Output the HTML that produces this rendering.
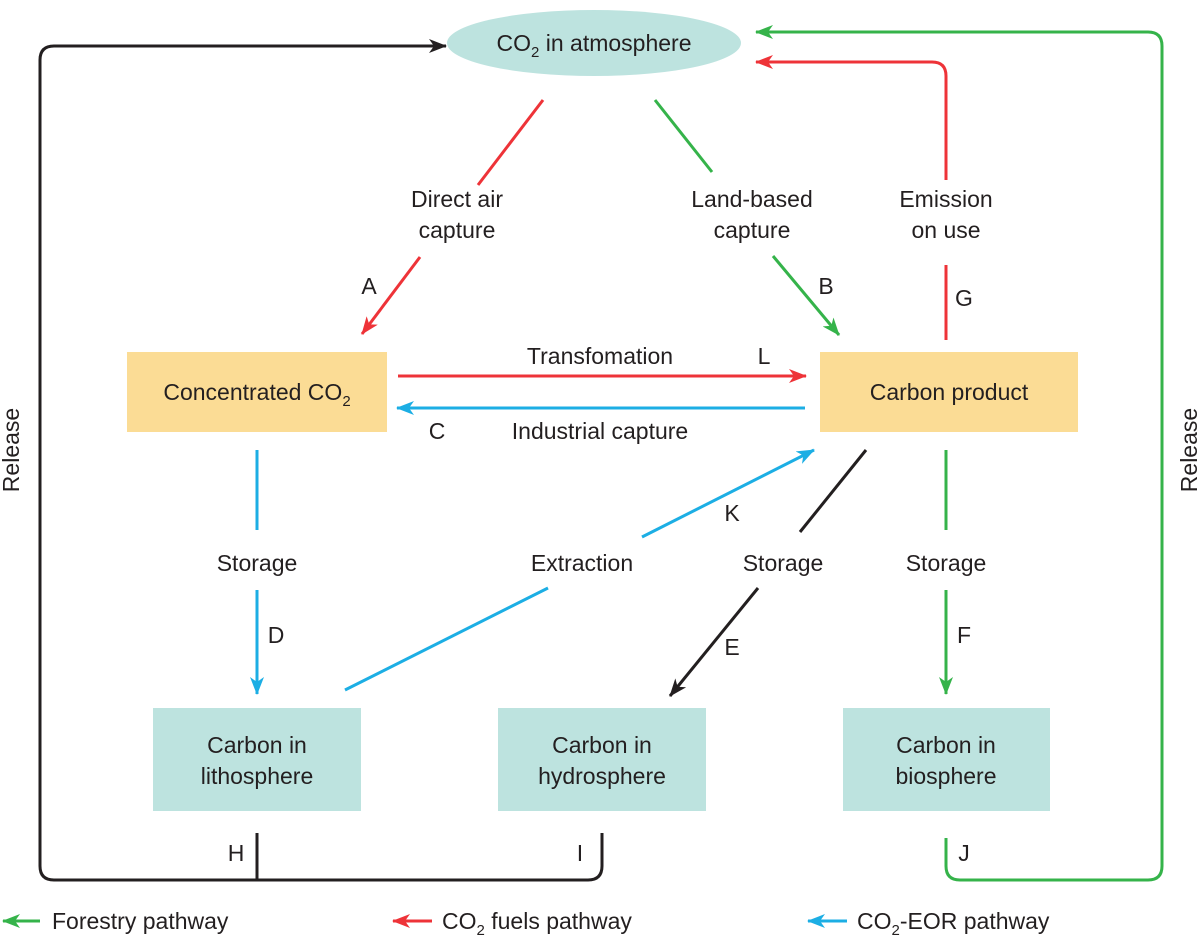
<!DOCTYPE html>
<html><head><meta charset="utf-8"><style>
html,body{margin:0;padding:0;background:#fff;}
svg{display:block;}
text{font-family:"Liberation Sans",Arial,sans-serif;font-size:23px;fill:#231f20;}
</style></head><body>
<svg width="1200" height="939" viewBox="0 0 1200 939" xmlns="http://www.w3.org/2000/svg">
<defs>
<marker id="ar" viewBox="0 0 18 14" refX="17" refY="7" markerWidth="18" markerHeight="14" markerUnits="userSpaceOnUse" orient="auto"><path d="M0,0 L18,7 L0,14 L5,7 Z" fill="#ee3338"/></marker>
<marker id="ag" viewBox="0 0 18 14" refX="17" refY="7" markerWidth="18" markerHeight="14" markerUnits="userSpaceOnUse" orient="auto"><path d="M0,0 L18,7 L0,14 L5,7 Z" fill="#35b34a"/></marker>
<marker id="ab" viewBox="0 0 18 14" refX="17" refY="7" markerWidth="18" markerHeight="14" markerUnits="userSpaceOnUse" orient="auto"><path d="M0,0 L18,7 L0,14 L5,7 Z" fill="#1caee4"/></marker>
<marker id="ak" viewBox="0 0 18 14" refX="17" refY="7" markerWidth="18" markerHeight="14" markerUnits="userSpaceOnUse" orient="auto"><path d="M0,0 L18,7 L0,14 L5,7 Z" fill="#231f20"/></marker>
</defs>
<g fill="none" stroke-width="3">
<path d="M602,833 V866 Q602,880 588,880 H54 Q40,880 40,866 V60 Q40,46 54,46 H446" stroke="#231f20" marker-end="url(#ak)"/>
<path d="M257,833 V880" stroke="#231f20"/>
<path d="M946,838 V866 Q946,880 960,880 H1148 Q1162,880 1162,866 V46 Q1162,32 1148,32 H756" stroke="#35b34a" marker-end="url(#ag)"/>
<path d="M946,180 V76 Q946,62 932,62 H756" stroke="#ee3338" marker-end="url(#ar)"/>
<path d="M946,340 V265" stroke="#ee3338"/>
<path d="M543,100 L478,185" stroke="#ee3338"/>
<path d="M420,257 L362,334" stroke="#ee3338" marker-end="url(#ar)"/>
<path d="M655,100 L712,172" stroke="#35b34a"/>
<path d="M773,256 L839,335" stroke="#35b34a" marker-end="url(#ag)"/>
<path d="M398,376 H806" stroke="#ee3338" marker-end="url(#ar)"/>
<path d="M805,408 H397" stroke="#1caee4" marker-end="url(#ab)"/>
<path d="M257,450 V530" stroke="#1caee4"/>
<path d="M257,590 V694" stroke="#1caee4" marker-end="url(#ab)"/>
<path d="M345,690 L548,588" stroke="#1caee4"/>
<path d="M642,537 L814,450" stroke="#1caee4" marker-end="url(#ab)"/>
<path d="M866,450 L800,532" stroke="#231f20"/>
<path d="M758,588 L670,696" stroke="#231f20" marker-end="url(#ak)"/>
<path d="M946,450 V530" stroke="#35b34a"/>
<path d="M946,590 V694" stroke="#35b34a" marker-end="url(#ag)"/>
<path d="M40,921 H3" stroke="#35b34a" marker-end="url(#ag)"/>
<path d="M432,921 H393" stroke="#ee3338" marker-end="url(#ar)"/>
<path d="M847,921 H808" stroke="#1caee4" marker-end="url(#ab)"/>
</g>
<ellipse cx="594" cy="43" rx="147" ry="33" fill="#bde3df"/>
<rect x="127" y="352" width="260" height="80" fill="#fbdc95"/>
<rect x="820" y="352" width="258" height="80" fill="#fbdc95"/>
<rect x="153" y="708" width="208" height="103" fill="#bde3df"/>
<rect x="498" y="708" width="208" height="103" fill="#bde3df"/>
<rect x="843" y="708" width="207" height="103" fill="#bde3df"/>
<g text-anchor="middle">
<text x="594" y="51">CO<tspan font-size="15" dy="6">2</tspan><tspan dy="-6"> in atmosphere</tspan></text>
<text x="257" y="400">Concentrated CO<tspan font-size="15" dy="6">2</tspan></text>
<text x="949" y="400">Carbon product</text>
<text x="257" y="753">Carbon in</text><text x="257" y="784">lithosphere</text>
<text x="602" y="753">Carbon in</text><text x="602" y="784">hydrosphere</text>
<text x="946" y="753">Carbon in</text><text x="946" y="784">biosphere</text>
<text x="457" y="207">Direct air</text><text x="457" y="238">capture</text>
<text x="752" y="207">Land-based</text><text x="752" y="238">capture</text>
<text x="946" y="207">Emission</text><text x="946" y="238">on use</text>
<text x="600" y="364">Transfomation</text>
<text x="600" y="439">Industrial capture</text>
<text x="257" y="571">Storage</text>
<text x="582" y="571">Extraction</text>
<text x="783" y="571">Storage</text>
<text x="946" y="571">Storage</text>
<text x="369" y="294">A</text>
<text x="826" y="294">B</text>
<text x="964" y="306">G</text>
<text x="764" y="364">L</text>
<text x="437" y="439">C</text>
<text x="276" y="643">D</text>
<text x="732" y="521">K</text>
<text x="732" y="655">E</text>
<text x="964" y="643">F</text>
<text x="236" y="861">H</text>
<text x="580" y="861">I</text>
<text x="964" y="861">J</text>
</g>
<text x="19" y="450" text-anchor="middle" transform="rotate(-90 19 450)">Release</text>
<text x="1181" y="450" text-anchor="middle" transform="rotate(-90 1181 450)" dy="16">Release</text>
<text x="52" y="929">Forestry pathway</text>
<text x="442" y="929">CO<tspan font-size="15" dy="6">2</tspan><tspan dy="-6"> fuels pathway</tspan></text>
<text x="857" y="929">CO<tspan font-size="15" dy="6">2</tspan><tspan dy="-6">-EOR pathway</tspan></text>
</svg>
</body></html>
